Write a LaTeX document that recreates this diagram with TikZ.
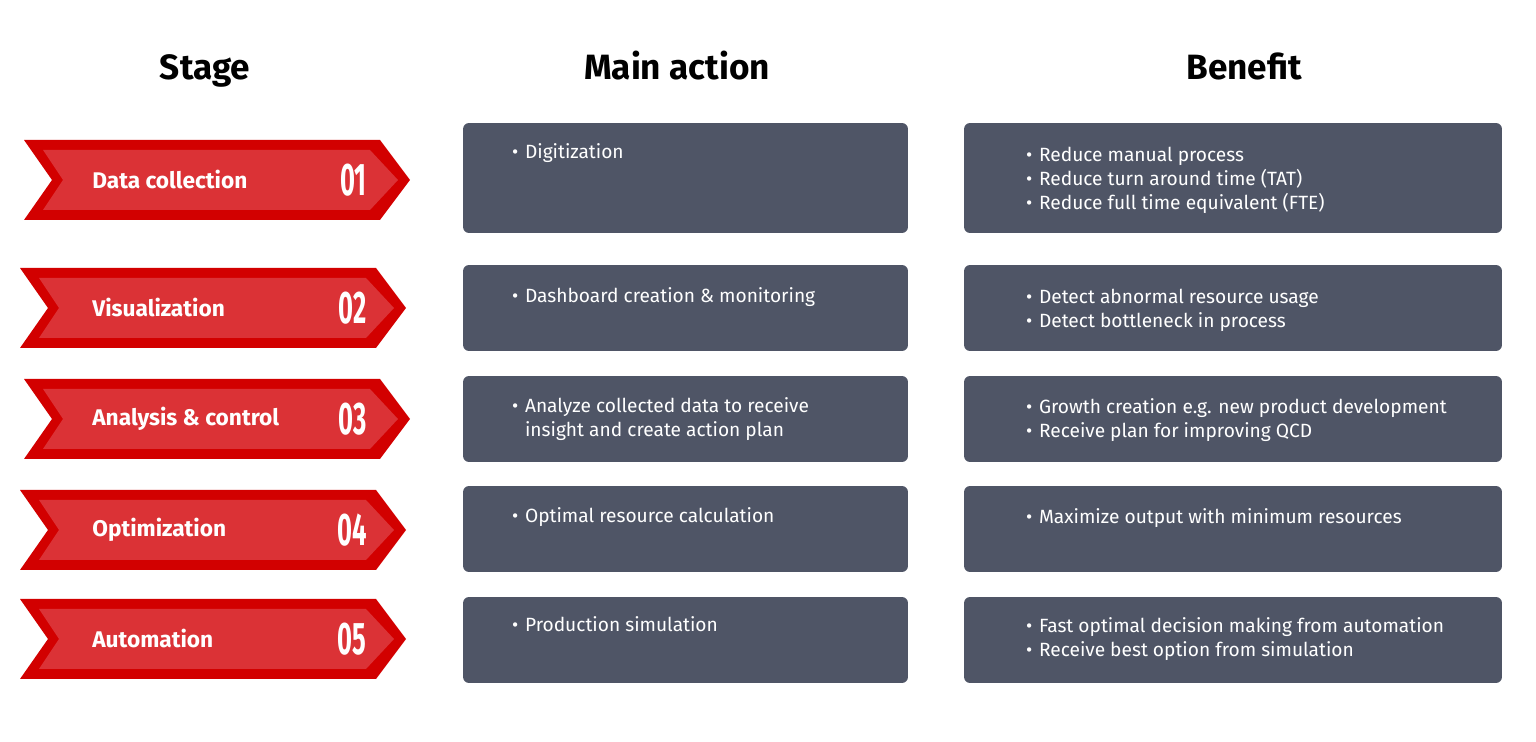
\documentclass[tikz,border=0pt]{standalone}
\usepackage{fontspec}
\setmainfont{Fira Sans}
\usepackage{xcolor}
\usepackage{tikz}

\definecolor{redout}{HTML}{D20000}
\definecolor{redin}{HTML}{DB3236}
\definecolor{slate}{HTML}{4F5566}

\begin{document}
\begin{tikzpicture}[x=0.02cm, y=-0.02cm,
    heading/.style={anchor=base, font=\fontsize{20}{24}\selectfont\bfseries, text=black},
    stagename/.style={anchor=west, inner sep=0pt, text=white, font=\fontsize{12.9}{15}\selectfont\bfseries},
    stagenum/.style={anchor=east, inner sep=0pt, text=white, font=\fontsize{26}{28}\selectfont\bfseries},
    infobox/.style={fill=slate, rounded corners=0.12cm, inner sep=0pt},
    actbox/.style={infobox, minimum width=8.9cm},
    benbox/.style={infobox, minimum width=10.76cm},
    bullets/.style={anchor=north west, inner sep=0pt, align=left, text=white, font=\fontsize{10.9}{13.6}\selectfont}]
  \useasboundingbox (0,0) rectangle (1536,742);
  \newcommand{\bul}{\strut\makebox[7.4pt][l]{•}}
  % column headings
  \node[heading] (hstage) at (205,80) {Stage};
  \node[heading] (hact) at (677,80) {Main action};
  \node[heading] (hben) at (1244,80) {Benefit};
  % stage arrows
  \fill[redout, shift={(24,140)}] (0,0) -- (356,0) -- (386,40) -- (356,80) -- (0,80) -- (28,40) -- cycle;
  \fill[redin, shift={(24,140)}] (19,10) -- (346,10) -- (374,40) -- (346,70) -- (19,70) -- (39,40) -- cycle;
  \fill[redout, shift={(20,268)}] (0,0) -- (356,0) -- (386,40) -- (356,80) -- (0,80) -- (28,40) -- cycle;
  \fill[redin, shift={(20,268)}] (19,10) -- (346,10) -- (374,40) -- (346,70) -- (19,70) -- (39,40) -- cycle;
  \fill[redout, shift={(24,379)}] (0,0) -- (356,0) -- (386,40) -- (356,80) -- (0,80) -- (28,40) -- cycle;
  \fill[redin, shift={(24,379)}] (19,10) -- (346,10) -- (374,40) -- (346,70) -- (19,70) -- (39,40) -- cycle;
  \fill[redout, shift={(20,490)}] (0,0) -- (356,0) -- (386,40) -- (356,80) -- (0,80) -- (28,40) -- cycle;
  \fill[redin, shift={(20,490)}] (19,10) -- (346,10) -- (374,40) -- (346,70) -- (19,70) -- (39,40) -- cycle;
  \fill[redout, shift={(20,599)}] (0,0) -- (356,0) -- (386,40) -- (356,80) -- (0,80) -- (28,40) -- cycle;
  \fill[redin, shift={(20,599)}] (19,10) -- (346,10) -- (374,40) -- (346,70) -- (19,70) -- (39,40) -- cycle;
  \node[stagename] (s1) at (92,180) {Data collection};
  \node[stagenum] (n1) at (367,180) {\scalebox{0.56}[1]{01}};
  \node[stagename] (s2) at (92,308) {Visualization};
  \node[stagenum] (n2) at (367,308) {\scalebox{0.56}[1]{02}};
  \node[stagename] (s3) at (92,419) {Analysis \& control};
  \node[stagenum] (n3) at (367,419) {\scalebox{0.56}[1]{03}};
  \node[stagename] (s4) at (92,530) {Optimization};
  \node[stagenum] (n4) at (367,530) {\scalebox{0.56}[1]{04}};
  \node[stagename] (s5) at (92,639) {Automation};
  \node[stagenum] (n5) at (367,639) {\scalebox{0.56}[1]{05}};
  % main action boxes
  \node[actbox, minimum height=2.2cm] (act1) at (685.5,178) {};
  \node[actbox, minimum height=1.72cm] (act2) at (685.5,308) {};
  \node[actbox, minimum height=1.72cm] (act3) at (685.5,419) {};
  \node[actbox, minimum height=1.72cm] (act4) at (685.5,529) {};
  \node[actbox, minimum height=1.72cm] (act5) at (685.5,640) {};
  \node[bullets] (at1) at ([shift={(49,19)}]act1.north west) {\bul Digitization};
  \node[bullets] (at2) at ([shift={(49,21)}]act2.north west) {\bul Dashboard creation \& monitoring};
  \node[bullets] (at3) at ([shift={(49,20)}]act3.north west) {\bul Analyze collected data to receive\\ \hspace*{7.4pt}insight and create action plan};
  \node[bullets] (at4) at ([shift={(49,20)}]act4.north west) {\bul Optimal resource calculation};
  \node[bullets] (at5) at ([shift={(49,18)}]act5.north west) {\bul Production simulation};
  % benefit boxes
  \node[benbox, minimum height=2.2cm] (ben1) at (1233,178) {};
  \node[benbox, minimum height=1.72cm] (ben2) at (1233,308) {};
  \node[benbox, minimum height=1.72cm] (ben3) at (1233,419) {};
  \node[benbox, minimum height=1.72cm] (ben4) at (1233,529) {};
  \node[benbox, minimum height=1.72cm] (ben5) at (1233,640) {};
  \node[bullets] (bt1) at ([shift={(62,22)}]ben1.north west) {\bul Reduce manual process\\ \bul Reduce turn around time (TAT)\\ \bul Reduce full time equivalent (FTE)};
  \node[bullets] (bt2) at ([shift={(62,22)}]ben2.north west) {\bul Detect abnormal resource usage\\ \bul Detect bottleneck in process};
  \node[bullets] (bt3) at ([shift={(62,21)}]ben3.north west) {\bul Growth creation e.g. new product development\\ \bul Receive plan for improving QCD};
  \node[bullets] (bt4) at ([shift={(62,21)}]ben4.north west) {\bul Maximize output with minimum resources};
  \node[bullets] (bt5) at ([shift={(62,19)}]ben5.north west) {\bul Fast optimal decision making from automation\\ \bul Receive best option from simulation};
\end{tikzpicture}
\end{document}
